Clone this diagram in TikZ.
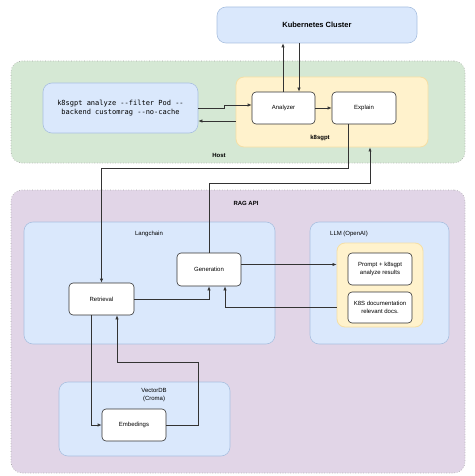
\documentclass[tikz,border=0pt]{standalone}
\usepackage{fontspec}
\setmainfont{Liberation Sans}
\newfontfamily\monof{DejaVu Sans Mono}
\usetikzlibrary{arrows.meta,calc}
\definecolor{bluef}{HTML}{DAE8FC}
\definecolor{blues}{HTML}{A9C0E0}
\definecolor{greenf}{HTML}{D5E8D4}
\definecolor{purplef}{HTML}{E1D5E7}
\definecolor{yellowf}{HTML}{FFF2CC}
\definecolor{yellows}{HTML}{F5DFA5}
\definecolor{lnc}{HTML}{333333}
\tikzset{
  outer/.style={draw=gray!70, dotted, line width=0.6pt, rounded corners=11pt},
  bluebox/.style={draw=blues, fill=bluef, line width=0.6pt, rounded corners=9pt},
  yelbox/.style={draw=yellows, fill=yellowf, line width=0.8pt, rounded corners=8pt},
  wbox/.style={draw=lnc, fill=white, line width=0.6pt, rounded corners=4pt, align=center, font=\fontsize{6}{7.5}\selectfont},
  lbl/.style={font=\fontsize{6}{7.5}\selectfont, align=center, text=black},
  blbl/.style={font=\fontsize{6}{7.5}\selectfont\bfseries, align=center, text=black},
  arr/.style={draw=lnc, line width=0.6pt, -{Latex[length=4pt,width=3.2pt]}},
}
\begin{document}
\begin{tikzpicture}[x=1pt,y=-1pt]
\useasboundingbox (0,0) rectangle (474,476);
% containers
\node[bluebox, minimum width=200pt, minimum height=36pt, font=\fontsize{7.5}{9}\selectfont\bfseries] (kube) at (317,25) {Kubernetes Cluster};
\node[outer, fill=greenf, minimum width=454pt, minimum height=102pt] (host) at (238,112) {};
\node[blbl] (hostl) at (219,155) {Host};
\node[bluebox, minimum width=155pt, minimum height=50pt, align=center, font=\monof\fontsize{7}{8.5}\selectfont] (cmd) at (120.5,108) {k8sgpt analyze --filter Pod --\\backend customrag --no-cache};
\node[yelbox, minimum width=192pt, minimum height=70pt] (kg) at (332,112) {};
\node[blbl] (kgl) at (320,138) {k8sgpt};
\node[wbox, minimum width=63pt, minimum height=32pt] (ana) at (283.5,108) {Analyzer};
\node[wbox, minimum width=64pt, minimum height=32pt] (exp) at (364,108) {Explain};

\node[outer, fill=purplef, minimum width=454pt, minimum height=283pt] (rag) at (238,331.5) {};
\node[blbl] (ragl) at (246,203) {RAG API};
\node[bluebox, minimum width=251pt, minimum height=122pt] (lc) at (149.5,283) {};
\node[lbl] (lcl) at (149,234) {Langchain};
\node[bluebox, minimum width=139pt, minimum height=122pt] (llm) at (379.5,283) {};
\node[lbl] (llml) at (349,234) {LLM (OpenAI)};
\node[yelbox, minimum width=86pt, minimum height=84pt] (y2) at (380,285) {};
\node[wbox, minimum width=64pt, minimum height=32pt] (prompt) at (380,269) {Prompt + k8sgpt\\analyze results};
\node[wbox, minimum width=64pt, minimum height=31pt] (doc) at (380,307.5) {K8S documentation\\relevant docs.};
\node[wbox, minimum width=64pt, minimum height=33pt] (gen) at (209,269.5) {Generation};
\node[wbox, minimum width=65pt, minimum height=32pt] (ret) at (101.5,299) {Retrieval};
\node[bluebox, minimum width=171pt, minimum height=74pt] (vdb) at (144.5,419) {};
\node[lbl] (vdbl) at (154,395) {VectorDB\\(Croma)};
\node[wbox, minimum width=64pt, minimum height=32pt] (emb) at (134,425) {Embedings};

% connectors
\draw[arr] (cmd.east) -- ++(26,0) |- ([yshift=3pt]ana.west);
\draw[arr] ([yshift=-9pt]kg.west) -- ([yshift=-9pt]kg.west -| cmd.east);
\draw[arr] ([xshift=-0.5pt]ana.north) -- ([xshift=-0.5pt]ana.north |- kube.south);
\draw[arr] ([xshift=15.5pt]ana.north |- kube.south) -- ([xshift=15.5pt]ana.north);
\draw[arr] (ana.east) -- (exp.west);
\draw[arr] ([xshift=-16pt]exp.south) -- ++(0,44) -| (ret.north);
\draw[arr] (gen.north) -- ++(0,-69) -| ([xshift=38pt]kg.south);
\draw[arr] ([yshift=5pt]gen.east) -- ([yshift=5pt]gen.east -| y2.west);
\draw[arr] (ret.east) -| (gen.south);
\draw[arr] (y2.west |- doc.west) -| ([xshift=16pt]gen.south);
\draw[arr] ([xshift=-10.5pt]ret.south) |- (emb.west);
\draw[arr] (emb.east) -- ++(32,0) -- ++(0,-63) -| ([xshift=15.5pt]ret.south);
\end{tikzpicture}
\end{document}
